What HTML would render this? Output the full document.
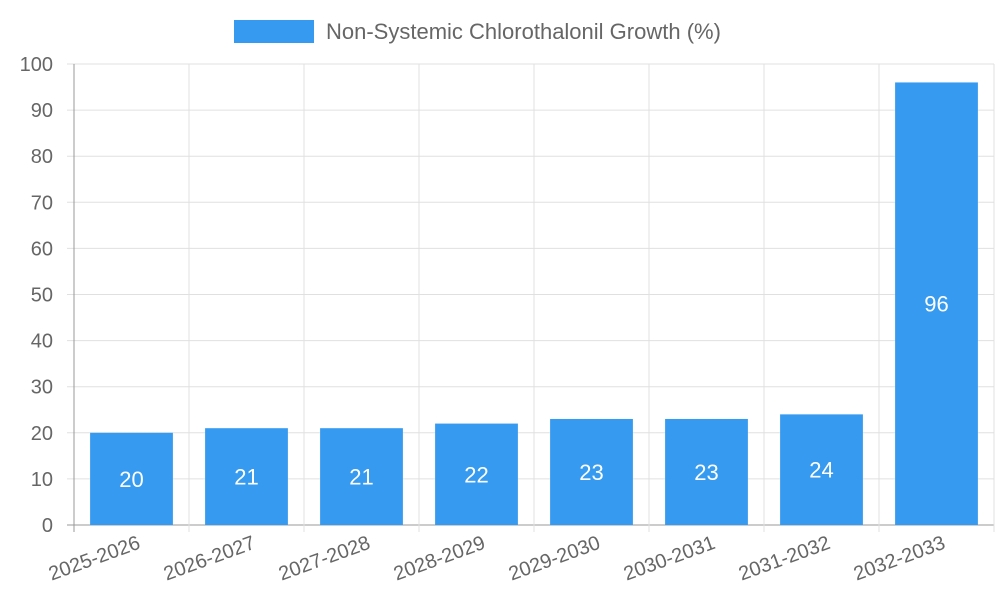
<!DOCTYPE html>
<html><head><meta charset="utf-8"><style>
body{margin:0;background:#fff;}
svg text{font-family:"Liberation Sans",sans-serif;}
</style></head><body>
<svg id="c" width="1000" height="600" xmlns="http://www.w3.org/2000/svg"></svg>
<script>
const categories=["2025-2026","2026-2027","2027-2028","2028-2029","2029-2030","2030-2031","2031-2032","2032-2033"];
const values=[20,21,21,22,23,23,24,96];
const yTicks=[0,10,20,30,40,50,60,70,80,90,100];
const seriesName="Non-Systemic Chlorothalonil Growth (%)";
const NS="http://www.w3.org/2000/svg";
const svg=document.getElementById('c');
const L=74,R=994,T=64,B=525;
const x=i=>L+(R-L)/categories.length*i;
const y=v=>B-(B-T)*v/100;
function mk(t,a,txt){const e=document.createElementNS(NS,t);for(const k in a)e.setAttribute(k,a[k]);if(txt!==undefined)e.textContent=txt;svg.appendChild(e);return e;}
// legend
let lb=mk('rect',{x:234,y:20,width:80,height:23,fill:'#369bf0'});


let lt=mk('text',{x:326,y:39,'font-size':22,fill:'#666'},seriesName);


// grid
yTicks.forEach(v=>{
 let g=mk('line',{x1:67,x2:R,y1:y(v),y2:y(v),stroke:v===0?'#999':'#e0e0e0','stroke-width':1});
 
 
 let t=mk('text',{x:53,y:y(v)+7,'font-size':20,fill:'#666','text-anchor':'end'},v);
 
 
});
for(let i=0;i<=categories.length;i++){
 let g=mk('line',{x1:x(i),x2:x(i),y1:T,y2:532,stroke:i===0?'#999':'#e0e0e0','stroke-width':1});
 
 
}
const bw=(R-L)/categories.length;
categories.forEach((c,i)=>{
 const cx=x(i)+bw/2, w=bw*0.72;
 let r=mk('rect',{x:cx-w/2,y:y(values[i]),width:w,height:B-y(values[i]),fill:'#369bf0'});
 
 
 let v=mk('text',{x:cx,y:(y(values[i])+B)/2+8,'font-size':22,fill:'#fff','text-anchor':'middle'},values[i]);
 
 
 let t=mk('text',{x:0,y:0,'font-size':20,fill:'#666','text-anchor':'end',transform:`translate(${cx+10},${548}) rotate(-20)`},c);
 
 
});
</script>
</body></html>
